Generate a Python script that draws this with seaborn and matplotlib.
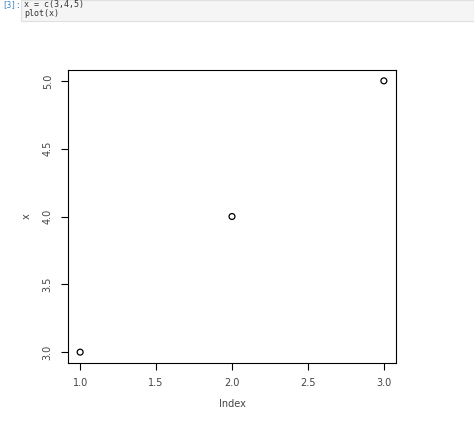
import matplotlib
matplotlib.use("Agg")
import matplotlib.pyplot as plt
import seaborn as sns
import pandas as pd
from matplotlib.patches import Rectangle

index = [1, 2, 3]
values = [3, 4, 5]
xticks = [1.0, 1.5, 2.0, 2.5, 3.0]
yticks = [3.0, 3.5, 4.0, 4.5, 5.0]

sns.set_style("white")
plt.rcParams['font.family'] = ['DejaVu Sans']
fig = plt.figure(figsize=(4.74, 4.24), dpi=100)
fig.patches.append(Rectangle((21/474, 1-21/424), 453/474, 21/424, transform=fig.transFigure,
                             facecolor="#f5f5f5", edgecolor="#e0e0e0", lw=0.8))
fig.text(2/474, 1-5/424, "[3]:", color="#307fc1", fontsize=5.5, family="DejaVu Sans Mono", va="center")
fig.text(24/474, 1-5/424, "x = c(3,4,5)", color="#333333", fontsize=6, family="DejaVu Sans Mono", va="center")
fig.text(24/474, 1-13/424, "plot(x)", color="#333333", fontsize=6, family="DejaVu Sans Mono", va="center")

ax = fig.add_axes([68/474, 1-363/424, 328/474, 293/424])
df = pd.DataFrame({"Index": index, "x": values})
sns.scatterplot(data=df, x="Index", y="x", ax=ax, marker="o", s=18,
                facecolors="none", edgecolor="black", linewidth=0.9)
ax.set_xlim(0.92, 3.08)
ax.set_ylim(2.92, 5.08)
ax.set_xticks(xticks)
ax.set_yticks(yticks)
ax.set_xticklabels([f"{v:.1f}" for v in xticks])
ax.set_yticklabels([f"{v:.1f}" for v in yticks], rotation=90, va="center")
for s in ax.spines.values():
    s.set_color("black"); s.set_linewidth(0.8)
ax.tick_params(axis="both", length=5, width=0.8, color="black", labelsize=7, labelcolor="#444444", pad=6, left=True, bottom=True)
ax.set_xlabel("Index", fontsize=7, color="#444444", labelpad=8)
ax.set_ylabel("x", fontsize=7, color="#444444", labelpad=8)
fig.savefig("out.png", dpi=100)
